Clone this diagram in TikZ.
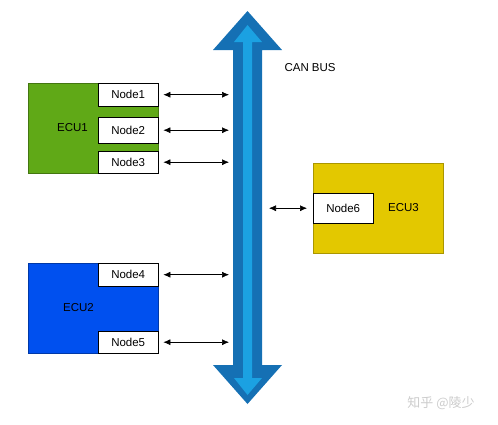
\documentclass[tikz,border=0pt]{standalone}
\usepackage{fontspec}
\setmainfont{Liberation Sans}
\newfontfamily\cjkfont{Noto Sans CJK SC}
\usetikzlibrary{positioning,arrows.meta,calc}
\definecolor{ecugreen}{RGB}{96,169,23}
\definecolor{ecublue}{RGB}{0,80,239}
\definecolor{ecuyellow}{RGB}{227,200,0}
\definecolor{busdark}{RGB}{21,112,180}
\definecolor{buslight}{RGB}{27,161,226}
\tikzset{ecu/.style={anchor=north west,inner sep=0pt,minimum width=130,minimum height=90}}
\tikzset{nodebox/.style={draw=black,fill=white,anchor=north east,inner sep=0pt,minimum width=60,font=\fontsize{11.5}{13}\selectfont}}
\tikzset{label text/.style={font=\fontsize{11.5}{13}\selectfont}}
\tikzset{link/.style={{Latex[length=7pt,width=6pt]}-{Latex[length=7pt,width=6pt]},semithick}}

\begin{document}
\begin{tikzpicture}[x=1pt,y=-1pt]
  \useasboundingbox (0,0) rectangle (498,424);
  % CAN bus double arrow
  \fill[busdark] (247.5,11) -- (282,50) -- (262,50) -- (262,365) -- (282,365)
    -- (247.5,404) -- (213,365) -- (233,365) -- (233,50) -- (213,50) -- cycle;
  \fill[buslight] (247.5,25) -- (262,42) -- (252,42) -- (252,378) -- (262,378)
    -- (247.5,395) -- (234,378) -- (243,378) -- (243,42) -- (234,42) -- cycle;
  \node[label text,anchor=west] (canbus) at (281,68) {CAN BUS};
  \coordinate (busL) at (229,0);
  \coordinate (busR) at (269,0);

  % ECU1
  \node[ecu,fill=ecugreen,draw=ecugreen!70!black] (ecu1) at (28,83) {};
  \node[label text] (ecu1lbl) at (72.5,128) {ECU1};
  \node[nodebox,minimum height=23] (n1) at (ecu1.north east) {Node1};
  \node[nodebox,minimum height=26] (n2) at ($(ecu1.north east)+(0,34)$) {Node2};
  \node[nodebox,minimum height=22] (n3) at ($(ecu1.north east)+(0,68)$) {Node3};

  % ECU2
  \node[ecu,fill=ecublue,draw=ecublue!70!black] (ecu2) at (28,263) {};
  \node[label text] (ecu2lbl) at (78.5,308) {ECU2};
  \node[nodebox,minimum height=23] (n4) at (ecu2.north east) {Node4};
  \node[nodebox,minimum height=22] (n5) at ($(ecu2.north east)+(0,68)$) {Node5};

  % ECU3
  \node[ecu,fill=ecuyellow,draw=ecuyellow!75!black] (ecu3) at (313,163) {};
  \node[label text] (ecu3lbl) at (403.5,208) {ECU3};
  \node[nodebox,anchor=north west,minimum height=30] (n6) at (313,193) {Node6};

  % links to the bus
  \foreach \n in {n1,n2,n3,n4,n5}
    \draw[link,shorten <=5pt] (\n.east) -- (\n.east -| busL);
  \draw[link,shorten >=6pt] (n6.west -| busR) -- (n6.west);

  % watermark
  \node[text=black!20,font=\cjkfont\fontsize{13}{15}\selectfont] (mark) at (441,403) {知乎 @陵少};
\end{tikzpicture}
\end{document}
